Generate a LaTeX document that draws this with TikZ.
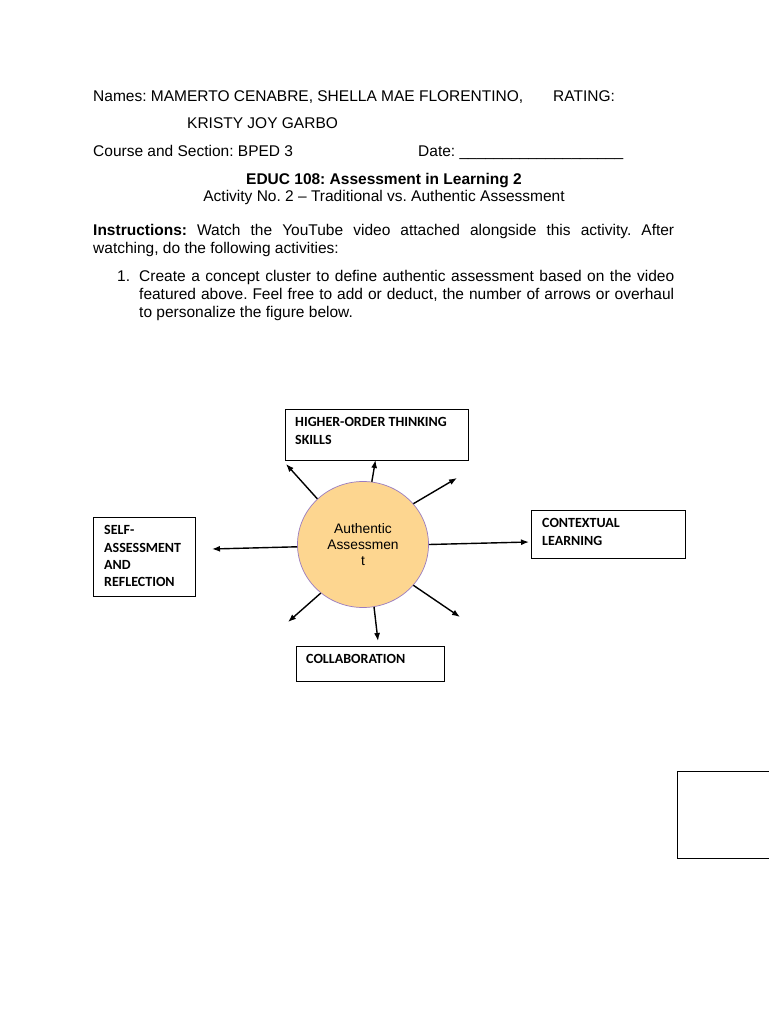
\documentclass[tikz,border=0pt]{standalone}
\usepackage{fontspec}
\setmainfont{Liberation Sans}
\newfontfamily\calib{Carlito}
\usetikzlibrary{arrows.meta,shapes.geometric}
\definecolor{circfill}{HTML}{FDD690}
\definecolor{circline}{HTML}{9A7CC0}
\frenchspacing
\begin{document}
\begin{tikzpicture}[x=1pt,y=-1pt,
  txt/.style={anchor=base west,inner sep=0pt,font=\fontsize{15.5}{18}\selectfont},
  ctxt/.style={anchor=base,inner sep=0pt,font=\fontsize{15.5}{18}\selectfont},
  box/.style={draw=black,line width=0.9pt,fill=white},
  lab/.style={anchor=north west,inner sep=0pt,align=left,font=\calib\bfseries\fontsize{14}{17.5}\selectfont},
  arr/.style={line width=1.4pt,-{Latex[length=8pt,width=6pt]}}]
\useasboundingbox[fill=white] (0,0) rectangle (768,1024);

% header
\node[txt] (names) at (93,102) {Names: MAMERTO CENABRE, SHELLA MAE FLORENTINO,};
\node[txt] (rating) at (553,102) {RATING:};
\node[txt] (kristy) at (187,129) {KRISTY JOY GARBO};
\node[txt] (course) at (93,157) {Course and Section: BPED 3};
\node[txt] (date) at (418,157) {Date: \_\_\_\_\_\_\_\_\_\_\_\_\_\_\_\_\_\_\_};
\node[ctxt,font=\bfseries\fontsize{15.5}{18}\selectfont] (title) at (384,185) {EDUC 108: Assessment in Learning 2};
\node[ctxt] (act) at (384,202) {Activity No. 2 -- Traditional vs. Authentic Assessment};
\node[txt] (ins1) at (93,236) {\makebox[581pt][s]{\textbf{Instructions:} Watch the YouTube video attached alongside this activity. After}};
\node[txt] (ins2) at (93,253) {watching, do the following activities:};
\node[txt] (num) at (117,281) {1.};
\node[txt] (l1) at (139,281) {\makebox[535pt][s]{Create a concept cluster to define authentic assessment based on the video}};
\node[txt] (l2) at (139,299) {\makebox[535pt][s]{featured above. Feel free to add or deduct, the number of arrows or overhaul}};
\node[txt] (l3) at (139,317) {to personalize the figure below.};

% boxes
\draw[box] (285,409) rectangle (468,460);
\node[lab] (hot) at (295,417.5) {HIGHER-ORDER THINKING\\SKILLS};
\coordinate (hots) at (375.5,460);

\draw[box] (93,517) rectangle (195,596);
\node[lab,font=\calib\bfseries\fontsize{14}{17.3}\selectfont] (self) at (104,525.5) {SELF-\\ASSESSMENT\\AND\\REFLECTION};

\draw[box] (531,510) rectangle (685,558);
\node[lab] (ctx) at (542,518.5) {CONTEXTUAL\\LEARNING};

\draw[box] (296,646) rectangle (444,681);
\node[lab] (col) at (306,654.5) {COLLABORATION};

\draw[box] (677,771) rectangle (770,858);
\node[inner sep=0pt] (blank) at (722,814) {};

% centre
\node[ellipse,draw=circline,line width=0.7pt,fill=circfill,minimum width=131pt,minimum height=126pt,inner sep=0pt,
  align=center,font=\fontsize{13.8}{16}\selectfont] (c) at (363,544.5) {Authentic\\Assessmen\\t};

% free ends
\coordinate (eul) at (286,464);
\coordinate (eur) at (457,478);
\coordinate (el) at (212,549);
\coordinate (er) at (529,542);
\coordinate (elr) at (460,617);
\coordinate (ell) at (288,622);
\coordinate (ed) at (378,641);

\draw[arr] (c.82) -- (hots);
\draw[arr] (c.135) -- (eul);
\draw[arr] (c.39) -- (eur);
\draw[arr] (c.182) -- (el);
\draw[arr] (c.0) -- (er);
\draw[arr] (c.-39) -- (elr);
\draw[arr] (c.-131) -- (ell);
\draw[arr] (c.-80) -- (ed);
\end{tikzpicture}
\end{document}
